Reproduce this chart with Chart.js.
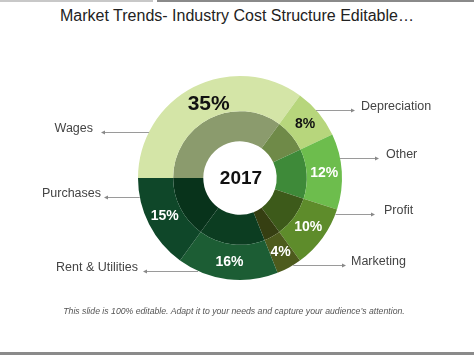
<!DOCTYPE html>
<html>
<head>
<meta charset="utf-8">
<script src="https://cdn.jsdelivr.net/npm/chart.js@4/dist/chart.umd.min.js"></script>
<style>
  html, body { margin: 0; padding: 0; background: #fff; }
  body { width: 474px; height: 355px; position: relative; overflow: hidden; font-family: "Liberation Sans", Arial, sans-serif; }
  .bar { position: absolute; height: 2px; }
  #title { position: absolute; top: 7px; left: 0; width: 474px; text-align: center; font-size: 16px; color: #222; }
  #note { position: absolute; top: 306px; left: 0; width: 468px; text-align: center; font-size: 8.7px; font-style: italic; color: #555; }
  #chart { position: absolute; left: 0; top: 0; }
</style>
</head>
<body>
<div class="bar" style="left:0;top:0;width:153px;background:#c8c8c8"></div>
<div class="bar" style="left:157px;top:0;width:317px;background:#8a8a8a"></div>
<div class="bar" style="left:0;top:352px;width:474px;height:3px;background:#8a8a8a"></div>
<div id="title">Market Trends- Industry Cost Structure Editable…</div>
<canvas id="chart" width="474" height="355"></canvas>
<div id="note">This slide is 100% editable. Adapt it to your needs and capture your audience’s attention.</div>
<script>
const categories = ['Wages', 'Depreciation', 'Other', 'Profit', 'Marketing', 'Rent & Utilities', 'Purchases'];
const shares = [35, 8, 12, 10, 4, 16, 15];
const outerColors = ['#d4e5a7', '#b7d67c', '#6dbd4d', '#5e8c2b', '#4d5b1d', '#1c5d34', '#0f4729'];
const innerColors = ['#8b9b6d', '#6f8a48', '#3e8a39', '#3d5a1a', '#363f12', '#0c3d21', '#08331b'];
const labelDark = [true, true, false, false, false, false, false];

// where each outside label sits: line y, arrow x, side, gap to text
const callouts = {
    'Wages':            { y: 132, x: 103, side: 'left', gap: 10 },
    'Purchases':        { y: 197, x: 106, side: 'left', gap: 5 },
    'Rent & Utilities': { y: 271, x: 145, side: 'left', gap: 7 },
    'Depreciation':     { y: 110, x: 353, side: 'right', gap: 8 },
    'Other':            { y: 158, x: 377, side: 'right', gap: 9 },
    'Profit':           { y: 214, x: 373, side: 'right', gap: 11 },
    'Marketing':        { y: 265, x: 344, side: 'right', gap: 7 }
};

const ringLabels = {
    id: 'ringLabels',
    afterDatasetsDraw(chart) {
        const ctx = chart.ctx;
        const arcs = chart.getDatasetMeta(0).data;
        const cx = arcs[0].x, cy = arcs[0].y, r = arcs[0].outerRadius;

        // percentages on the outer ring
        ctx.save();
        ctx.textAlign = 'center';
        ctx.textBaseline = 'middle';
        arcs.forEach((arc, i) => {
            const p = arc.tooltipPosition();
            const big = shares[i] >= 30;
            ctx.font = 'bold ' + (big ? 21 : 14) + 'px "Liberation Sans", Arial, sans-serif';
            ctx.fillStyle = labelDark[i] ? '#111' : '#fff';
            ctx.fillText(shares[i] + '%', p.x + (big ? 7 : 0), p.y + (big ? 1 : 0));
        });

        // center year
        ctx.font = 'bold 19px "Liberation Sans", Arial, sans-serif';
        ctx.fillStyle = '#111';
        ctx.fillText('2017', cx + 1, cy + 1);

        // callout lines and names
        ctx.font = '12.5px "Liberation Sans", Arial, sans-serif';
        ctx.textBaseline = 'middle';
        categories.forEach(name => {
            const c = callouts[name];
            const dy = c.y - cy;
            const edge = Math.sqrt(Math.max(r * r - dy * dy, 0));
            const startX = c.side === 'left' ? cx - edge : cx + edge;
            ctx.strokeStyle = '#9a9a9a';
            ctx.lineWidth = 1;
            ctx.beginPath();
            ctx.moveTo(startX, c.y + 0.5);
            ctx.lineTo(c.x, c.y + 0.5);
            ctx.stroke();
            const dir = c.side === 'left' ? -1 : 1;
            ctx.fillStyle = '#888';
            ctx.beginPath();
            ctx.moveTo(c.x + dir * 2, c.y + 0.5);
            ctx.lineTo(c.x - dir * 2, c.y - 1.5);
            ctx.lineTo(c.x - dir * 2, c.y + 2.5);
            ctx.closePath();
            ctx.fill();
            ctx.fillStyle = '#444';
            if (c.side === 'left') {
                ctx.textAlign = 'right';
                ctx.fillText(name, c.x - c.gap, c.y - 3);
            } else {
                ctx.textAlign = 'left';
                ctx.fillText(name, c.x + c.gap, c.y - 3);
            }
        });
        ctx.restore();
    }
};

new Chart(document.getElementById('chart').getContext('2d'), {
    type: 'doughnut',
    data: {
        labels: categories,
        datasets: [
            { data: shares, backgroundColor: outerColors, borderWidth: 0, weight: 35 },
            { data: shares, backgroundColor: innerColors, borderWidth: 0, weight: 30 }
        ]
    },
    options: {
        responsive: false,
        animation: false,
        rotation: 270,
        cutout: '36%',
        layout: { padding: { left: 138, right: 132, top: 76, bottom: 75 } },
        plugins: {
            legend: { display: false },
            tooltip: { enabled: false }
        }
    },
    plugins: [ringLabels]
});
</script>
</body>
</html>
